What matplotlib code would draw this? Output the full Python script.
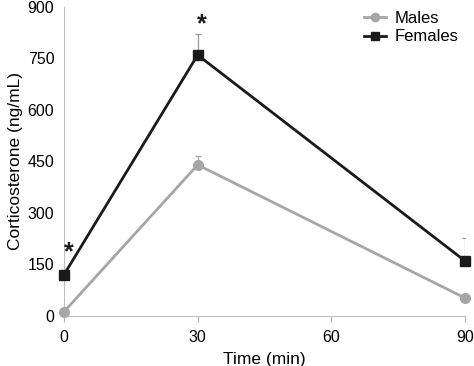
import numpy as np
import matplotlib
matplotlib.use("Agg")
import matplotlib.pyplot as plt

plt.rcParams['font.family'] = ['Liberation Sans', 'DejaVu Sans']

time = [0, 30, 90]
males = [12, 440, 52]
males_err = [0, 27, 0]
females = [120, 760, 160]
females_err = [0, 62, 68]
star_x = [0, 30]
star_y = [185, 850]

fig = plt.figure(figsize=(4.74, 3.66), dpi=100)
ax = fig.add_axes([0.135, 0.137, 0.846, 0.844])

# error bars (upper only)
ax.errorbar(time, males, yerr=[np.zeros(3), males_err], fmt='none',
            ecolor='#a6a6a6', elinewidth=0.9, capsize=2.5, capthick=0.9, zorder=2)
ax.errorbar(time, females, yerr=[np.zeros(3), females_err], fmt='none',
            ecolor='#999999', elinewidth=0.9, capsize=2.5, capthick=0.9, zorder=2)

ax.plot(time, males, color='#a6a6a6', lw=2, marker='o', ms=7,
        label='Males', zorder=3, clip_on=False)
ax.plot(time, females, color='#1a1a1a', lw=2, marker='s', ms=7,
        label='Females', zorder=4, clip_on=False)

for x, y in zip(star_x, star_y):
    ax.text(x + 1, y, '*', fontsize=18, fontweight='bold', ha='center', va='center', color='#1a1a1a')

ax.set_xlim(0, 90)
ax.set_ylim(0, 900)
ax.set_xticks([0, 30, 60, 90])
ax.set_yticks(np.arange(0, 901, 150))
ax.tick_params(axis='x', length=4, color='#b0b0b0', labelsize=11.5, pad=6)
ax.tick_params(axis='y', length=0, labelsize=11.5, pad=7)
for s in ['top', 'right']:
    ax.spines[s].set_visible(False)
for s in ['left', 'bottom']:
    ax.spines[s].set_color('#c0c0c0')
ax.set_xlabel('Time (min)', fontsize=12.5, labelpad=5)
ax.set_ylabel('Corticosterone (ng/mL)', fontsize=12.5, labelpad=3)

ax.legend(loc='upper right', bbox_to_anchor=(1.02, 1.035), frameon=False, fontsize=12,
          handlelength=1.3, handletextpad=0.5, labelspacing=0.2, markerscale=0.85)

fig.savefig('out.png', dpi=100)
